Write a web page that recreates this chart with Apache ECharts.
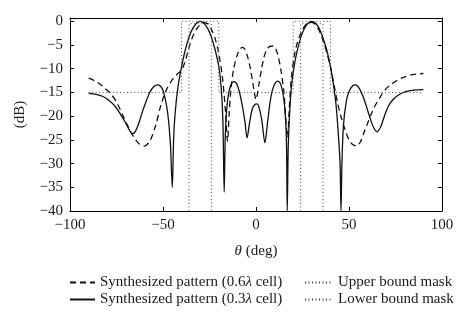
<!DOCTYPE html>
<html>
<head>
<meta charset="utf-8">
<script src="https://cdn.jsdelivr.net/npm/echarts@6/dist/echarts.min.js"></script>
<style>html,body{margin:0;padding:0;background:#fff}#c{width:474px;height:324px}</style>
</head>
<body>
<div id="c"></div>
<script>
var xTicks = [-100, -50, 0, 50, 100];
var yTicks = [-40, -35, -30, -25, -20, -15, -10, -5, 0];

var thetaSolid = [-90,-86,-82,-79,-76,-73,-70,-68,-66.5,-65,-63,-61,-59,-57,-55,-53,-51,-49.5,-48,-47,-46,-45,-44.3,-43.5,-42,-40,-38,-36,-34,-32,-30,-28,-26,-24,-22,-20,-18.7,-17.8,-17.1,-16.5,-15.5,-14,-12,-10.5,-9,-7.5,-6,-4.8,-3.5,-2,-0.5,0.5,1.5,3,4.8,6.3,8,9.7,11.7,13.3,14.8,15.8,16.4,16.8,17.3,18,19,20.5,22,24,26,28,30,32,34,36,38,40,41.5,43,44.3,45.2,45.7,46.2,47,48.5,50,52,53.5,55,57,59,61,63,65,67,69,71,73,76,80,85,90];
var dbSolid = [-15.2,-15.4,-15.9,-16.7,-17.8,-19.5,-21.5,-23,-23.7,-23.3,-21.5,-19,-16.8,-14.9,-13.8,-13.4,-13.8,-15.2,-18,-21,-26,-35,-25,-19.5,-14,-9.5,-6,-3.3,-1.5,-0.4,0,-0.4,-1.5,-3.3,-6,-9.5,-14,-21,-36,-24,-17.5,-14,-12.7,-13.1,-14.8,-17.5,-21,-24.6,-21.5,-18.5,-17.5,-17.4,-18,-20.5,-25.6,-21,-16,-13.5,-12.6,-13.3,-16,-20,-26,-40,-27,-20,-14,-9.5,-6.5,-3.5,-1.5,-0.4,0,-0.4,-1.5,-3.5,-6,-9.5,-13,-17.5,-24,-30,-40,-30,-22,-17,-14.8,-13.6,-13.4,-13.8,-15.3,-17.5,-20,-22.2,-23.3,-22.3,-20,-18,-16.8,-15.7,-14.9,-14.5,-14.4];

var thetaDashed = [-90,-87,-84,-81,-78,-75,-72,-69,-66,-63,-60,-57,-54,-51,-48,-45,-42,-40,-38,-36,-34,-32,-30,-28,-26,-24,-22,-20,-18,-16.5,-15.3,-14.5,-13.5,-12,-10,-8.5,-7.2,-6,-4.5,-3,-1.5,0,1.5,3,4.5,6,7.5,9.3,10.5,12,13.5,15,16.3,17,17.8,19,20.5,22,24,26,28,30,32,34,36,38,40,42,44,46,48,50,52,54,56,58,60,62,64,66,68,70,73,76,80,85,90];
var dbDashed = [-12,-12.5,-13.2,-14.2,-15.3,-17,-19.5,-22,-24.2,-25.8,-26.3,-25.2,-22,-17.5,-14.3,-12.3,-11,-10.3,-8.3,-5.5,-3.2,-1.7,-0.7,-0.3,-0.5,-1.7,-3.6,-6.8,-12,-18.5,-25.3,-20,-14.5,-10,-7,-5.8,-5.5,-5.9,-7.5,-10,-13.5,-16.5,-13.5,-10,-7.3,-5.8,-5.3,-5.2,-5.7,-7.5,-10.5,-15,-22,-24.5,-19,-12,-7.5,-4.8,-2.6,-1.1,-0.3,-0.2,-0.7,-2,-4,-6.5,-9.5,-13.5,-17.5,-20.5,-23,-25,-26,-26.3,-25.5,-23.5,-21.5,-19.5,-17.8,-16.5,-15.2,-14.2,-13.2,-12.4,-11.7,-11.2,-11];

var upperTheta = [-90,-40,-40,-20,-20,20,20,40,40,90];
var upperDb = [-15,-15,0,0,-15,-15,0,0,-15,-15];

var lowerTheta = [-36,-36,-24,-24,null,24,24,36,36];
var lowerDb = [-40,-0.5,-0.5,-40,null,-40,-0.5,-0.5,-40];

var names = ['Synthesized pattern (0.6λ cell)','Synthesized pattern (0.3λ cell)','Upper bound mask','Lower bound mask'];

function pairs(xs, ys){ return xs.map(function(x,i){ return x===null ? [null,null] : [x, ys[i]]; }); }
function fmtLegend(n){ return n.replace('λ','{i|λ}'); }
function minus(v){ return String(v).replace('-', '\u2212'); }

var serif = 'Liberation Serif';
var txt = '#1a1a1a';
var chart = echarts.init(document.getElementById('c'), null, {renderer:'canvas'});
var axisCommon = {
  axisLine:{show:true, onZero:false, lineStyle:{color:'#000', width:1}},
  axisTick:{show:true, inside:true, length:4, lineStyle:{color:'#000'}},
  splitLine:{show:false}
};
chart.setOption({
  animation:false,
  backgroundColor:'#fff',
  grid:{left:70, right:32, top:18, bottom:113, containLabel:false},
  xAxis:[
    Object.assign({type:'value', position:'bottom', min:-100, max:100, interval:50,
      name:'{i|θ} (deg)', nameLocation:'middle', nameGap:33,
      nameTextStyle:{fontFamily:serif, fontSize:15, color:txt, rich:{i:{fontFamily:serif, fontStyle:'italic', fontSize:15, color:txt}}},
      axisLabel:{fontFamily:serif, fontSize:15, color:txt, margin:7, formatter:function(v){return xTicks.indexOf(v)>=0?minus(v):'';}}}, axisCommon),
    Object.assign({type:'value', position:'top', min:-100, max:100, interval:50, axisLabel:{show:false}}, axisCommon)
  ],
  yAxis:[
    Object.assign({type:'value', position:'left', min:-40, max:0.7, interval:5,
      name:'(dB)', nameLocation:'middle', nameGap:42, nameRotate:90,
      nameTextStyle:{fontFamily:serif, fontSize:15, color:txt},
      axisLabel:{fontFamily:serif, fontSize:15, color:txt, margin:7, formatter:function(v){return yTicks.indexOf(v)>=0?minus(v):'';}}}, axisCommon),
    Object.assign({type:'value', position:'right', min:-40, max:0.7, interval:5, axisLabel:{show:false}}, axisCommon)
  ],
  legend:[
    {left:64, top:270, orient:'vertical', itemWidth:25, itemHeight:10, itemGap:2,
     data:[names[0], names[1]], formatter:fmtLegend, itemStyle:{opacity:0},
     textStyle:{fontFamily:serif, fontSize:15, color:txt, rich:{i:{fontFamily:serif, fontStyle:'italic', fontSize:15, color:txt}}}},
    {left:299, top:270, orient:'vertical', itemWidth:28, itemHeight:10, itemGap:2,
     data:[names[2], names[3]], itemStyle:{opacity:0},
     textStyle:{fontFamily:serif, fontSize:15, color:txt}}
  ],
  series:[
    {name:names[0], type:'line', data:pairs(thetaDashed, dbDashed), showSymbol:false, symbol:'none', smooth:0.3, clip:true,
     lineStyle:{color:'#111', width:1.3, type:[6,4]}, itemStyle:{color:'#111'}},
    {name:names[1], type:'line', data:pairs(thetaSolid, dbSolid), showSymbol:false, symbol:'none', smooth:0.3, clip:true,
     lineStyle:{color:'#111', width:1.3, type:'solid'}, itemStyle:{color:'#111'}},
    {name:names[2], type:'line', data:pairs(upperTheta, upperDb), showSymbol:false, symbol:'none', clip:false,
     lineStyle:{color:'#444', width:1, type:[1,2.5]}, itemStyle:{color:'#444'}},
    {name:names[3], type:'line', data:pairs(lowerTheta, lowerDb), showSymbol:false, symbol:'none', connectNulls:false, clip:false,
     lineStyle:{color:'#444', width:1, type:[1,2.5]}, itemStyle:{color:'#444'}}
  ]
});
</script>
</body>
</html>
